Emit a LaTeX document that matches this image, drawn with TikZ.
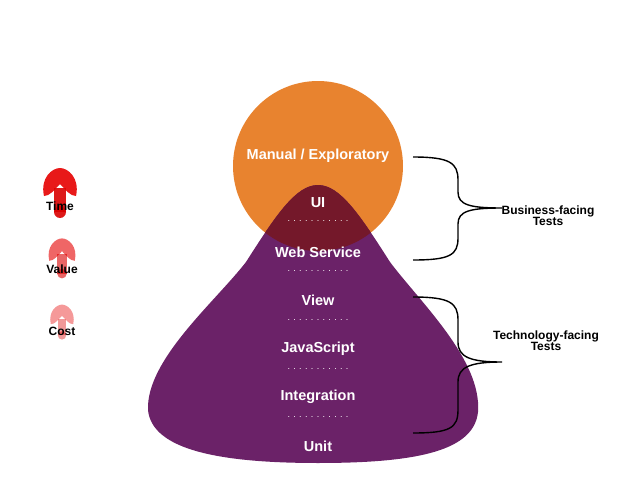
\documentclass[tikz,border=0pt]{standalone}
\usepackage{fontspec}
\setmainfont{Liberation Sans}
\begin{document}
\begin{tikzpicture}[x=1pt,y=-1pt,
 lbl/.style={text=white,font=\bfseries\fontsize{14.5}{16}\selectfont},
 dots/.style={text=white,font=\fontsize{9}{10}\selectfont},
 side/.style={text=black,font=\bfseries\fontsize{12}{13}\selectfont,align=center},
 brace/.style={draw=black,line width=1.4pt}]
\definecolor{org}{HTML}{E8832F}
\definecolor{pur}{HTML}{6B2268}
\definecolor{ovl}{HTML}{74182A}
\useasboundingbox (0,0) rectangle (638,479);
\def\purpath{(318,185) .. controls (340,185) and (360,215) .. (390,262) .. controls (420,302) and (482,360) .. (478,412) .. controls (474,450) and (420,463) .. (318,463) .. controls (220,463) and (152,450) .. (148,410) .. controls (146,360) and (215,302) .. (246,262) .. controls (276,215) and (296,185) .. (318,185) -- cycle}
\fill[org] (318,166) circle (85);
\fill[pur] \purpath;
\begin{scope}
\clip (318,166) circle (85);
\fill[ovl] \purpath;
\end{scope}
\node[lbl] (man) at (318,156) {Manual / Exploratory};
\node[lbl] (ui) at (318,203) {UI};
\node[dots] (d1) at (318,221) {. . . . . . . . . . .};
\node[lbl] (ws) at (318,252) {Web Service};
\node[dots] (d2) at (318,271) {. . . . . . . . . . .};
\node[lbl] (view) at (318,300) {View};
\node[dots] (d3) at (318,320) {. . . . . . . . . . .};
\node[lbl] (js) at (318,349) {JavaScript};
\node[dots] (d4) at (318,369) {. . . . . . . . . . .};
\node[lbl] (int) at (318,397) {Integration};
\node[dots] (d5) at (318,417) {. . . . . . . . . . .};
\node[lbl] (unit) at (318,446) {Unit};
% braces
\draw[brace] (413,157) .. controls (450,157) and (458,163) .. (458,180) -- (458,192) .. controls (458,205) and (470,208) .. (502,208)
 .. controls (470,208) and (458,211) .. (458,224) -- (458,238) .. controls (458,255) and (450,260) .. (413,260);
\draw[brace] (413,297) .. controls (450,297) and (458,303) .. (458,320) -- (458,342) .. controls (458,357) and (470,362) .. (502,362)
 .. controls (470,362) and (458,367) .. (458,382) -- (458,410) .. controls (458,428) and (450,433) .. (413,433);
\node[side] (bt) at (548,216) {Business-facing\\[-2pt]Tests};
\node[side] (tt) at (546,341) {Technology-facing\\[-2pt]Tests};
% arrows
\foreach \cx/\cy/\s/\op/\nm/\txt in {60/190/1/0.9/t/Time, 62/256/0.8/0.6/v/Value, 62/320/0.7/0.4/c/Cost}{
 \begin{scope}[shift={(\cx,\cy)},scale=\s]
 \fill[red!85!black,opacity=\op] (-6,-2) rectangle (6,22);
 \fill[red!85!black,opacity=\op] (0,22) circle (6);
 \fill[red!90!black,opacity=\op] (-16,6) .. controls (-20,-12) and (-8,-22) .. (0,-22) .. controls (8,-22) and (20,-12) .. (16,6) .. controls (10,6) and (6,0) .. (0,-6) .. controls (-6,0) and (-10,6) .. (-16,6) -- cycle;
 \end{scope}
 \node[side] (\nm) at (\cx,\cy+16*\s) {\txt};
}
\end{tikzpicture}
\end{document}
